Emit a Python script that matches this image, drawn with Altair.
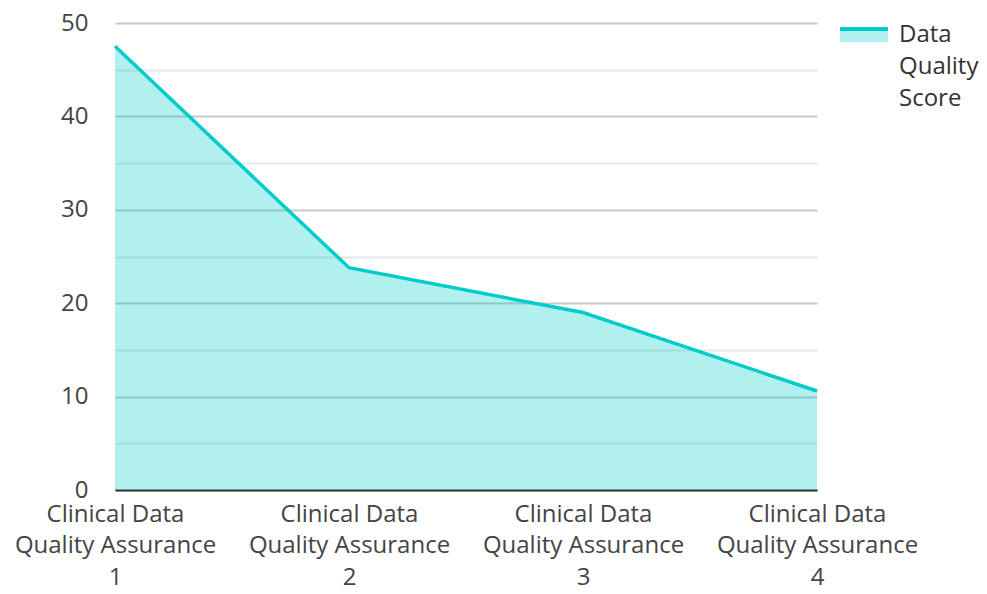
import altair as alt
import pandas as pd

categories = [
    "Clinical Data Quality Assurance 1",
    "Clinical Data Quality Assurance 2",
    "Clinical Data Quality Assurance 3",
    "Clinical Data Quality Assurance 4",
]
scores = [47.5, 23.8, 19.0, 10.6]
series = ["Data Quality Score"] * 4
y_ticks = [0, 5, 10, 15, 20, 25, 30, 35, 40, 45, 50]

df = pd.DataFrame({"category": categories, "score": scores, "series": series})

FONT = "Open Sans"

x_enc = alt.X(
    "category:N",
    sort=None,
    scale=alt.Scale(type="point", padding=0),
    axis=alt.Axis(
        title=None,
        labelAngle=0,
        labelExpr="[slice(datum.label,0,13), slice(datum.label,14,31), slice(datum.label,32)]",
        labelFontSize=24,
        labelFont=FONT,
        labelColor="#444444",
        labelLineHeight=31.5,
        labelBaseline="top",
        labelPadding=12,
        labelLimit=400,
        ticks=False,
        grid=False,
        domainColor="#333333",
        domainWidth=2,
        labelOverlap=False,
    ),
)

y_enc = alt.Y(
    "score:Q",
    scale=alt.Scale(domain=[0, 50], nice=False),
    axis=alt.Axis(
        title=None,
        values=y_ticks,
        labelExpr="datum.value % 10 == 0 ? datum.label : ''",
        labelFontSize=24,
        labelFont=FONT,
        labelColor="#444444",
        labelPadding=27,
        ticks=False,
        domain=False,
        gridColor={
            "condition": {"test": "datum.value % 10 == 0", "value": "#c8c8c8"},
            "value": "#e8e8e8",
        },
        gridWidth=2,
    ),
)

base = alt.Chart(df)

area = base.mark_area(color="#00cccc", opacity=0.3).encode(x=x_enc, y=y_enc)

line = base.mark_line(strokeWidth=3.5).encode(
    x=x_enc,
    y=y_enc,
    color=alt.Color(
        "series:N",
        scale=alt.Scale(range=["#00cccc"]),
        legend=alt.Legend(
            title=None,
            orient="none",
            legendX=723,
            legendY=-14,
            padding=0,
            symbolType="M-1,-0.25L1,-0.25L1,0.3L-1,0.3Z",
            symbolSize=2304,
            symbolStrokeWidth=4,
            symbolDash=[48, 1000],
            symbolFillColor="#b2f0f0",
            labelExpr="split(datum.label, ' ')",
            labelFontSize=24,
            labelFont=FONT,
            labelColor="#333333",
            labelOffset=9,
            labelLimit=300,
        ),
    ),
)

chart = (
    alt.layer(area, line)
    .properties(
        width=702,
        height=467,
        autosize=alt.AutoSizeParams(type="none"),
        padding={"left": 107, "top": 15, "right": 162, "bottom": 96},
    )
    .configure(style={"guide-label": {"lineHeight": 32}})
    .configure_view(stroke=None)
)

chart.save("out.html", embed_options={"renderer": "svg", "actions": False})
